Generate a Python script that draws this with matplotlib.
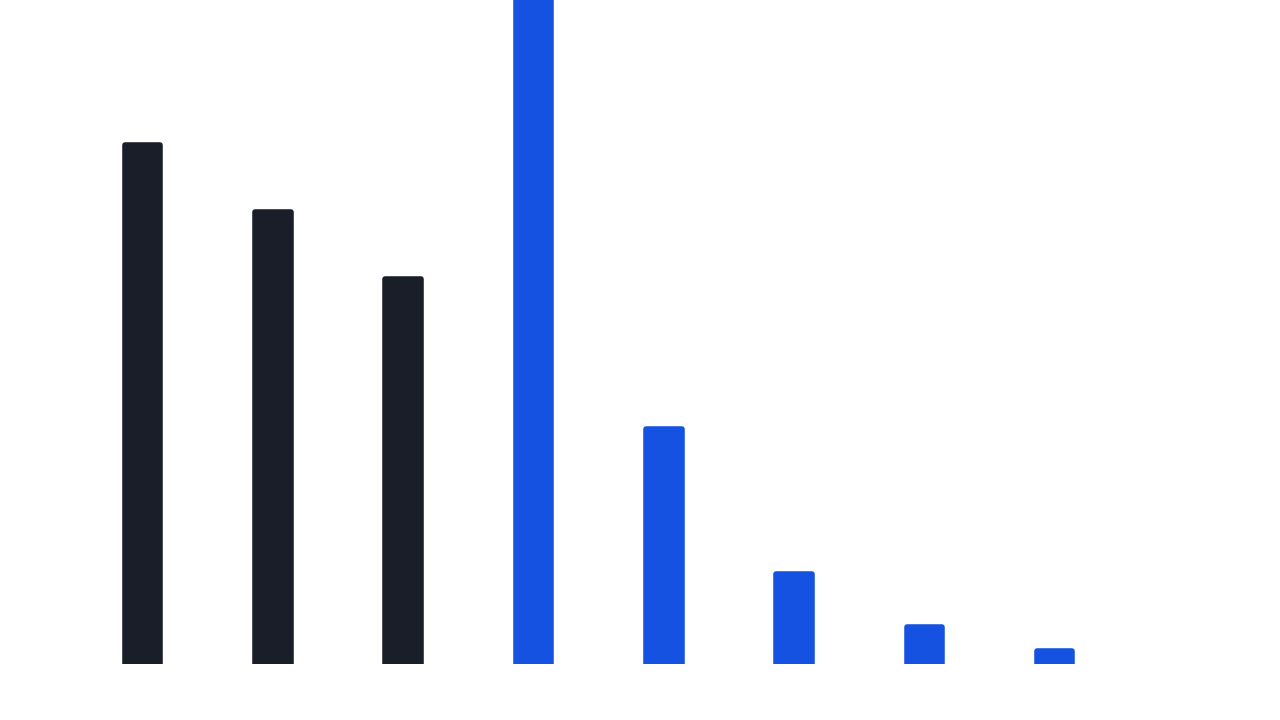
import matplotlib
matplotlib.use("Agg")
import matplotlib.pyplot as plt
import numpy as np

categories = ["A", "B", "C", "D", "E", "F", "G", "H"]
values = [78.1, 68.0, 58.0, 110.0, 35.4, 13.5, 5.6, 2.0]
groups = ["dark", "dark", "dark", "blue", "blue", "blue", "blue", "blue"]
palette = {"dark": "#1a1e29", "blue": "#1652e2"}

fig = plt.figure(figsize=(12.8, 7.2), dpi=100)
ax = fig.add_axes([0, 56 / 720, 1, 1 - 56 / 720])
x = np.arange(len(categories))
colors = [palette[g] for g in groups]
bars = ax.bar(x, values, width=0.272, color=colors, edgecolor=colors,
              linewidth=4.0, joinstyle="round")
ax.set_xlim(-1.094, 8.729)
ax.set_ylim(0, 100)
ax.axis("off")
fig.savefig("out.png", dpi=100, facecolor="white")
